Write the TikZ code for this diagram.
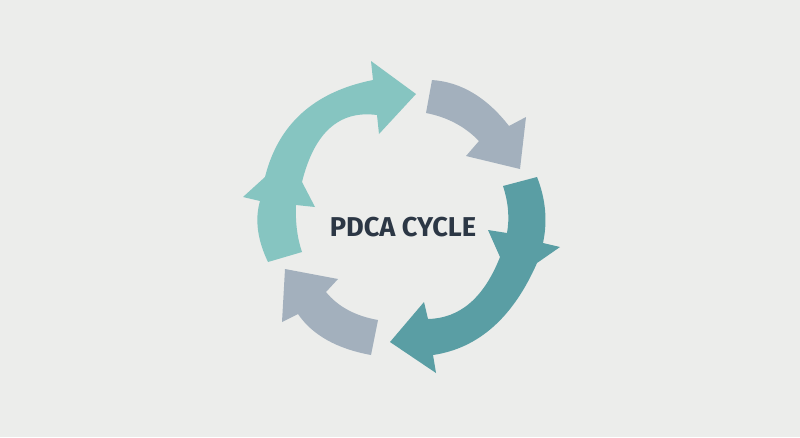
\documentclass[tikz,border=0pt]{standalone}
\usepackage{fontspec}
\setmainfont{Fira Sans}
\definecolor{paper}{HTML}{ECEDEB}
\definecolor{plan}{HTML}{86C5C1}
\definecolor{docheck}{HTML}{A3B0BD}
\definecolor{act}{HTML}{5A9EA4}
\definecolor{label}{HTML}{2C3745}
\tikzset{
	planarrow/.style={fill=plan},
	greyarrow/.style={fill=docheck},
	actarrow/.style={fill=act},
	title/.style={
		text=label,
		font=\bfseries\fontsize{15.5}{18}\selectfont,
		inner sep=0pt,
	},
}
\begin{document}
\begin{tikzpicture}[x=0.02cm,y=-0.02cm]
	\fill[paper] (0,0) rectangle (800,437);
	\useasboundingbox (0,0) rectangle (800,437);

	\fill[planarrow] (416,94) -- (371,61) -- (373,80)
		.. controls (314.3,91.7) and (278.3,124) .. (265,177) -- (243,197) -- (260,201)
		.. controls (254.7,219.3) and (257.3,239.7) .. (268,262) -- (302,252)
		.. controls (297.3,238.3) and (295.3,223) .. (296,205) -- (315,207) -- (302,182)
		.. controls (314.3,132.3) and (339.3,110) .. (377,115) -- (379,134) -- cycle;

	\fill[greyarrow] (432,80)
		.. controls (461,82) and (486.7,97.3) .. (509,126) -- (526,117) -- (520,169) -- (466,156) -- (479,141)
		.. controls (464.7,126.3) and (447,117) .. (426,113) -- cycle;

	\fill[actarrow] (537,177)
		.. controls (545.7,199) and (547.7,221) .. (543,243) -- (560,247) -- (537,263)
		.. controls (513,317.7) and (478.3,348.3) .. (433,355) -- (436,373) -- (390,342) -- (424,302) -- (428,319)
		.. controls (460,318.3) and (484,297.7) .. (500,257) -- (488,230) -- (507,233)
		.. controls (509.7,218) and (508.3,202.3) .. (503,186) -- cycle;

	\fill[greyarrow] (371,355)
		.. controls (336.7,348.7) and (312.3,335) .. (298,314) -- (282,322) -- (285,269) -- (338,279) -- (326,292)
		.. controls (338,306.7) and (355.3,316) .. (378,320) -- cycle;

	\node[title] (cycle) at (403,227) {PDCA CYCLE};
\end{tikzpicture}
\end{document}
